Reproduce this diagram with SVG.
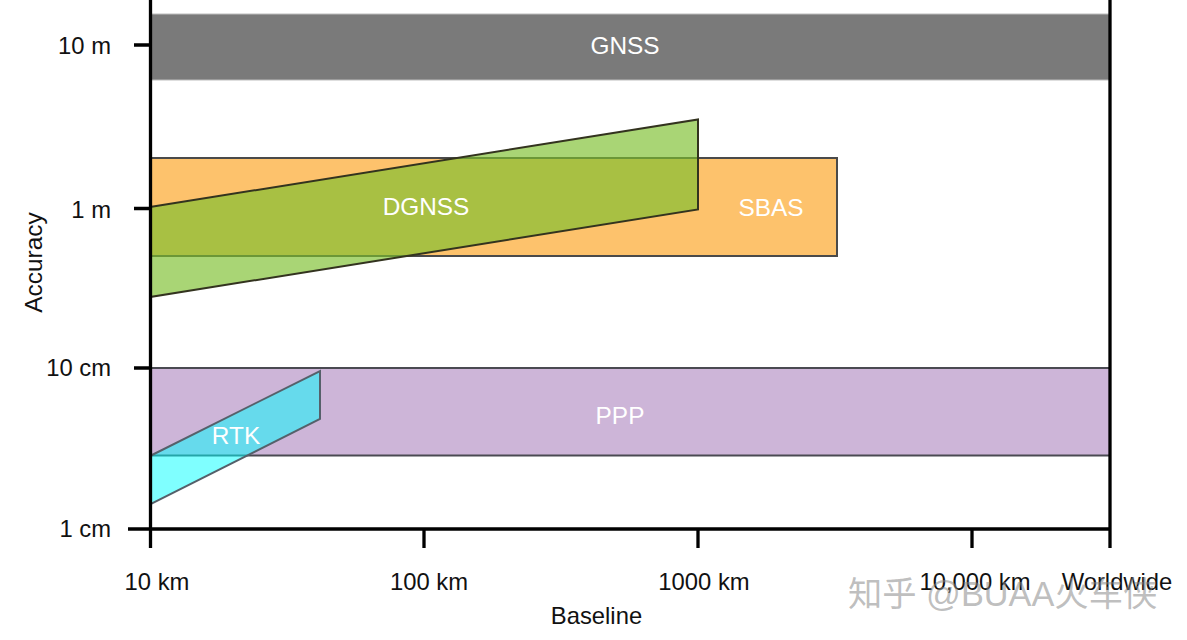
<svg xmlns="http://www.w3.org/2000/svg" width="1187" height="640" viewBox="0 0 1187 640">
<style>
text{font-family:"Liberation Sans",Arial,"Noto Sans CJK SC",sans-serif;font-size:23.8px;fill:#111}
.w{fill:#fff;font-size:24.4px;text-anchor:middle}
.m{text-anchor:middle}
.e{text-anchor:end}
.ax{stroke:#000;stroke-width:3.300;fill:none}
</style>
<rect width="1187" height="640" fill="#fff"/>
<g id="gnss"><rect x="150" y="14" width="960" height="66" fill="#7a7a7a" stroke="#bdbdbd" stroke-width="1"/><text class="w" x="625" y="53.500">GNSS</text></g>
<g id="sbas"><rect x="150" y="158" width="687" height="98" fill="#fdc26c" stroke="#4a4a4a" stroke-width="2"/><text class="w" x="771" y="216">SBAS</text></g>
<g id="dgnss"><path d="M150 207L698 119.500V209.500L150 297Z" fill="#7cc02e" fill-opacity=".66" stroke="#33331f" stroke-width="2"/><text class="w" x="426" y="214.500">DGNSS</text></g>
<g id="ppp"><rect x="150" y="368" width="960" height="87.500" fill="#cdb5d8" stroke="#4a4a52" stroke-width="2"/><text class="w" x="620" y="424">PPP</text></g>
<g id="rtk"><path d="M150 456L320 371V419L150 504.500Z" fill="#00ffff" fill-opacity=".5" stroke="#55606a" stroke-width="2"/><text class="w" x="236" y="444">RTK</text></g>
<g id="axes" class="ax">
<path d="M150.500 0V548M1110 0V548M128 529H1110M134 45H150M134 208.500H150M134 368H150M424 529V548M698 529V548M972 529V548"/>
</g>
<g id="labels">
<text class="e" x="111" y="53.500">10 m</text>
<text class="e" x="111" y="217.500">1 m</text>
<text class="e" x="111" y="376">10 cm</text>
<text class="e" x="111" y="537">1 cm</text>
<text class="m" x="157" y="590">10 km</text>
<text class="m" x="429" y="590">100 km</text>
<text class="m" x="704" y="590">1000 km</text>
<text class="m" x="975" y="590">10,000 km</text>
<text class="m" x="1117" y="590">Worldwide</text>
<text class="m" x="596.500" y="624">Baseline</text>
<text class="m" transform="translate(42 262.500) rotate(-90)" style="font-size:24.400px">Accuracy</text>
</g>
<text x="848" y="606" style="font-size:34.300px;fill:#888;fill-opacity:.55">知乎 @BUAA火车侠</text>
</svg>
